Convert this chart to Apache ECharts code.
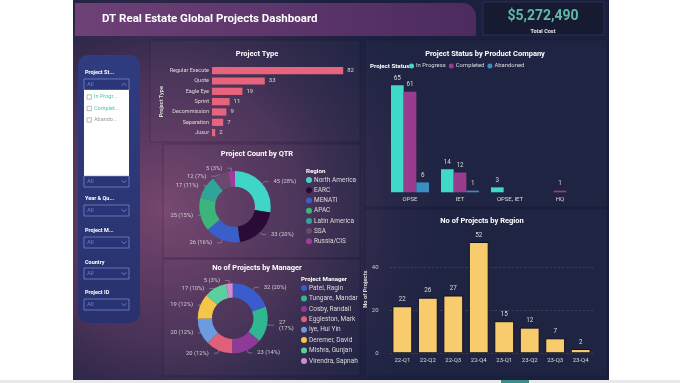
<!DOCTYPE html>
<html><head><meta charset="utf-8">
<script src="https://cdn.jsdelivr.net/npm/echarts@6/dist/echarts.min.js"></script>
<style>html,body{margin:0;padding:0;background:#fff;}#c{width:680px;height:383px;}</style>
</head><body><div id="c"></div>
<script>
// ---------- data ----------
const dashboardTitle = 'DT Real Estate Global Projects Dashboard';
const totalCost = '$5,272,490';
const totalCostLabel = 'Total Cost';

const projectTypes = ['Regular Execute','Quote','Eagle Eye','Sprint','Decommission','Separation','Jusur'];
const projectTypeCounts = [82,33,19,11,9,7,2];

const companies = ['OPSE','IET','OPSE, IET','HQ'];
const statusNames = ['In Progress','Completed','Abandoned'];
const inProgressCounts = [65,14,3,null];
const completedCounts = [61,12,null,1];
const abandonedCounts = [6,1,null,null];

const regions = ['North America','EARC','MENATI','APAC','Latin America','SSA','Russia/CIS'];
const regionCounts = [45,33,26,25,17,12,5];

const managers = ['Patel, Ragin','Tungare, Mandar','Cosby, Randall','Eggleston, Mark','Iye, Hui Yin','Deremer, David','Mishra, Gunjan','Virendra, Sapnah'];
const managerCounts = [32,27,23,20,20,19,17,5];

const quarters = ['22-Q1','22-Q2','22-Q3','22-Q4','23-Q1','23-Q2','23-Q3','23-Q4'];
const quarterCounts = [22,26,27,52,15,12,7,2];

const slicerTitles = ['Project St...','Year & Qu...','Project M...','Country','Project ID'];
const statusOptions = ['In Progr...','Complet...','Abando...'];
const slicerAll = 'All';

// ---------- styling ----------
const FONT = 'Roboto, "Noto Sans", sans-serif';
const regionColors = ['#3fd6c8','#2b0b36','#3b5fc8','#3cb57c','#2ea598','#6a4a6c','#a23c9c'];
const managerColors = ['#3a5ccc','#2fb792','#8e3a98','#e0607a','#6d9be0','#f5c54a','#5ccf9f','#d28bd2'];
const statusColors = ['#3fd9c9','#9a3c8e','#3a8fc0'];

const chart = echarts.init(document.getElementById('c'), null, {renderer:'canvas'});

function txt(x, y, text, opt) {
  return Object.assign({type:'text', x:x, y:y, silent:true,
    style:Object.assign({text:text, fill:'#fff', font:'bold 7.5px ' + FONT, textAlign:'left', textVerticalAlign:'middle'}, opt || {})});
}
function chevron(x, y, up) {
  const pts = up ? [[x-2.5,y+1.2],[x,y-1.2],[x+2.5,y+1.2]] : [[x-2.5,y-1.2],[x,y+1.2],[x+2.5,y-1.2]];
  return {type:'polyline', silent:true, shape:{points:pts}, style:{stroke:'#7d8ad0', lineWidth:0.8, fill:null}};
}
function dropdown(y, up) {
  return [
    {type:'rect', silent:true, shape:{x:84, y:y, width:45, height:11}, style:{fill:'rgba(40,52,120,0.6)', stroke:'rgba(150,160,225,0.75)', lineWidth:0.8}},
    txt(87, y+5.5, slicerAll, {font:'6px ' + FONT, fill:'#6f7ec6'}),
    chevron(124, y+5.5, up)
  ];
}

const g = [];
// page background pieces
g.push({type:'rect', silent:true, shape:{x:73, y:0, width:536, height:380}, style:{fill:'#1b2040'}});
g.push({type:'rect', silent:true, shape:{x:73, y:0, width:536, height:380}, style:{fill:{type:'radial', x:0.17, y:0.55, r:0.8, colorStops:[
  {offset:0, color:'rgba(124,72,114,0.95)'},{offset:0.45, color:'rgba(90,56,96,0.72)'},{offset:1, color:'rgba(27,32,64,0)'}]}}});
g.push({type:'rect', silent:true, shape:{x:0, y:380, width:680, height:3}, style:{fill:'#e9e9ec'}});
g.push({type:'rect', silent:true, shape:{x:501, y:380, width:28, height:3}, style:{fill:'#3a8f8a'}});

// banner
g.push({type:'rect', silent:true, shape:{x:75, y:3, width:401, height:33, r:[0,14,0,0]}, style:{fill:{type:'linear', x:0, y:0, x2:1, y2:0, colorStops:[
  {offset:0, color:'#6e4177'},{offset:1, color:'#4c2b5f'}]}}});
g.push(txt(102, 19, dashboardTitle, {font:'bold 11.5px ' + FONT}));
// KPI
g.push({type:'rect', silent:true, shape:{x:483, y:2, width:121, height:33}, style:{fill:'#161b31', stroke:'#283050', lineWidth:1}});
g.push(txt(543, 16, totalCost, {font:'bold 14px ' + FONT, fill:'#62b9a9', textAlign:'center'}));
g.push(txt(543, 32, totalCostLabel, {font:'bold 5.5px ' + FONT, fill:'#e8e8e8', textAlign:'center'}));

// chart panels
const panels = [[150,40,210,102],[163,144,197,114],[163,259,197,117],[365,40,242,167],[365,209,242,167]];
panels.forEach(p => g.push({type:'rect', silent:true, shape:{x:p[0], y:p[1], width:p[2], height:p[3]}, style:{fill:'rgba(255,255,255,0.02)', stroke:'rgba(10,10,30,0.22)', lineWidth:1}}));

// slicer panel
g.push({type:'rect', silent:true, shape:{x:78, y:55, width:62, height:268, r:10}, style:{fill:{type:'linear', x:0, y:0, x2:0, y2:1, colorStops:[
  {offset:0, color:'#2f3c80'},{offset:1, color:'#29326e'}]}}});
const slicerY = [73, 199, 231, 263, 293];
slicerTitles.forEach((t, i) => g.push(txt(85, slicerY[i], t, {font:'bold 5.5px ' + FONT})));
g.push(...dropdown(79, true));
g.push({type:'rect', silent:true, shape:{x:84, y:90, width:45, height:86}, style:{fill:'#ffffff'}});
const optColors = ['#4cc4b0','#4cc4b0','#9a9a9a'];
statusOptions.forEach((t, i) => {
  const y = 97 + i * 11.5;
  g.push({type:'rect', silent:true, shape:{x:87, y:y-2.2, width:4.4, height:4.4}, style:{fill:'#fff', stroke:'#8a8a8a', lineWidth:0.6}});
  g.push(txt(94, y, t, {font:'5.5px ' + FONT, fill:optColors[i]}));
});
g.push(...dropdown(176, false));
[205, 237, 268, 299].forEach(y => g.push(...dropdown(y, false)));

// chart titles
g.push(txt(257, 54, 'Project Type', {textAlign:'center'}));
g.push(txt(485, 54, 'Project Status by Product Company', {textAlign:'center'}));
g.push(txt(257, 154, 'Project Count by QTR', {textAlign:'center'}));
g.push(txt(257, 268, 'No of Projects by Manager', {textAlign:'center'}));
g.push(txt(482, 221, 'No of Projects by Region', {textAlign:'center'}));
// legend titles
g.push(txt(370, 66, 'Project Status', {font:'bold 6.2px ' + FONT}));
g.push(txt(306, 171, 'Region', {font:'bold 6.2px ' + FONT}));
g.push(txt(301, 279, 'Project Manager', {font:'bold 6.2px ' + FONT}));

const lblColor = '#dcdcdc';
const managerData = managers.map((n, i) => {
  const d = {name:n, value:managerCounts[i]};
  if (i === 1) d.label = {formatter:'{c}\n({d}%)'};
  return d;
});

const option = {
  animation:false,
  textStyle:{fontFamily:FONT},
  graphic:{elements:g},
  grid:[
    {left:212, top:65.5, width:144, height:72.3},
    {left:385, top:77, width:200, height:115.3},
    {left:389.6, top:224.9, width:203.8, height:128.4}
  ],
  xAxis:[
    {gridIndex:0, type:'value', min:0, max:90, show:false},
    {gridIndex:1, type:'category', data:companies, axisLine:{show:false}, axisTick:{show:false},
      axisLabel:{color:lblColor, fontSize:6, margin:4}},
    {gridIndex:2, type:'category', data:quarters, axisLine:{show:false}, axisTick:{show:false},
      axisLabel:{color:lblColor, fontSize:6, margin:4}}
  ],
  yAxis:[
    {gridIndex:0, type:'category', data:projectTypes, inverse:true, axisLine:{show:false}, axisTick:{show:false},
      axisLabel:{color:lblColor, fontSize:5.5, margin:3},
      name:'Project Type', nameLocation:'middle', nameRotate:90, nameGap:47, nameMoveOverlap:false,
      nameTextStyle:{color:lblColor, fontSize:5.5, fontWeight:'bold'}},
    {gridIndex:1, type:'value', min:0, max:70, show:false},
    {gridIndex:2, type:'value', min:0, max:60, interval:20,
      axisLine:{show:false}, axisTick:{show:false},
      axisLabel:{color:'#c8c8c8', fontSize:6, margin:11, showMaxLabel:false},
      splitLine:{show:true, showMaxLine:false, lineStyle:{color:'rgba(255,255,255,0.16)', type:'dashed', width:0.7}},
      name:'No of Projects', nameLocation:'middle', nameRotate:90, nameGap:21, nameMoveOverlap:false,
      nameTextStyle:{color:lblColor, fontSize:5.8, fontWeight:'bold'}}
  ],
  legend:[
    {orient:'horizontal', left:409, top:63, padding:0, itemWidth:5, itemHeight:5, itemGap:3, icon:'circle', data:statusNames,
      textStyle:{color:lblColor, fontSize:5.9, padding:[0,0,0,-3]}},
    {orient:'vertical', left:306, top:176.6, height:120, padding:0, itemWidth:6, itemHeight:6, itemGap:3.2, icon:'circle', data:regions,
      textStyle:{color:lblColor, fontSize:6.5, padding:[0,0,0,-3]}},
    {orient:'vertical', left:301, top:284.6, height:100, padding:0, itemWidth:6, itemHeight:6, itemGap:3.4, icon:'circle', data:managers,
      textStyle:{color:lblColor, fontSize:6.5, padding:[0,0,0,-3]}}
  ],
  series:[
    {type:'bar', xAxisIndex:0, yAxisIndex:0, data:projectTypeCounts, barCategoryGap:'30%',
      itemStyle:{color:'#e8637c'}, label:{show:true, position:'right', color:lblColor, fontSize:6, distance:4}},
    {type:'bar', name:statusNames[0], xAxisIndex:1, yAxisIndex:1, data:inProgressCounts, barGap:'0%', barCategoryGap:'24%',
      itemStyle:{color:statusColors[0]}, label:{show:true, position:'top', color:lblColor, fontSize:6.3, distance:4}},
    {type:'bar', name:statusNames[1], xAxisIndex:1, yAxisIndex:1, data:completedCounts, barGap:'0%', barCategoryGap:'24%',
      itemStyle:{color:statusColors[1]}, label:{show:true, position:'top', color:lblColor, fontSize:6.3, distance:4}},
    {type:'bar', name:statusNames[2], xAxisIndex:1, yAxisIndex:1, data:abandonedCounts, barGap:'0%', barCategoryGap:'24%',
      itemStyle:{color:statusColors[2]}, label:{show:true, position:'top', color:lblColor, fontSize:6.3, distance:4}},
    {type:'bar', xAxisIndex:2, yAxisIndex:2, data:quarterCounts, barCategoryGap:'22%',
      itemStyle:{color:'#f8cb6d', borderColor:'#0e1020', borderWidth:1},
      label:{show:true, position:'top', color:lblColor, fontSize:6.3, distance:4}},
    {type:'pie', center:[235, 206.7], radius:[20, 35.7], startAngle:90, percentPrecision:0,
      data:regions.map((n, i) => ({name:n, value:regionCounts[i]})),
      color:regionColors,
      label:{show:true, position:'outside', formatter:'{c} ({d}%)', color:'#cfcfcf', fontSize:5.8},
      labelLine:{show:true, length:3, length2:4, lineStyle:{color:'#9a9aa8', width:0.6}}},
    {type:'pie', center:[232.7, 318.3], radius:[20.7, 35], startAngle:90, percentPrecision:0,
      data:managerData,
      color:managerColors,
      label:{show:true, position:'outside', formatter:'{c} ({d}%)', color:'#cfcfcf', fontSize:5.8},
      labelLine:{show:true, length:3, length2:4, lineStyle:{color:'#9a9aa8', width:0.6}}}
  ]
};
chart.setOption(option);
</script>
</body></html>
